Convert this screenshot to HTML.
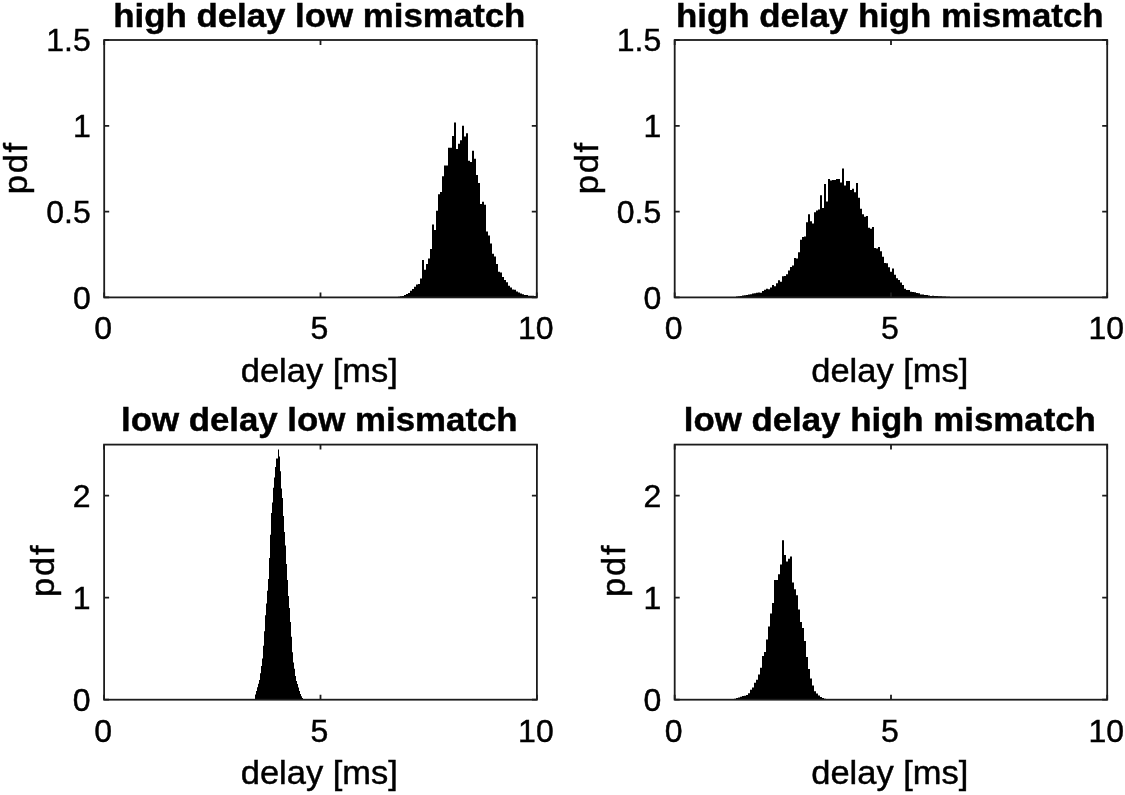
<!DOCTYPE html><html><head><meta charset="utf-8"><title>delay pdf</title>
<style>html,body{margin:0;padding:0;background:#fff;overflow:hidden}svg{display:block}text{font-family:"Liberation Sans", Arial, Helvetica, sans-serif;fill:#000;stroke:#000;stroke-width:0.45px}</style></head><body>
<svg width="1125" height="795" viewBox="0 0 1125 795">
<rect width="1125" height="795" fill="#fff"/>
<g>
<path d="M394.0 297.4L394.0 297.3L396.0 297.3L396.0 297.0L398.0 297.0L398.0 296.7L400.0 296.7L400.0 296.3L402.0 296.3L402.0 296.1L404.0 296.1L404.0 295.1L406.0 295.1L406.0 293.9L408.0 293.9L408.0 293.0L410.0 293.0L410.0 290.7L412.0 290.7L412.0 289.0L414.0 289.0L414.0 286.7L416.0 286.7L416.0 284.6L418.0 284.6L418.0 283.9L420.0 283.9L420.0 278.6L422.0 278.6L422.0 259.9L424.0 259.9L424.0 269.8L426.0 269.8L426.0 263.9L428.0 263.9L428.0 258.4L430.0 258.4L430.0 249.0L432.0 249.0L432.0 224.6L434.0 224.6L434.0 229.9L436.0 229.9L436.0 210.7L438.0 210.7L438.0 194.2L440.0 194.2L440.0 192.0L442.0 192.0L442.0 176.2L444.0 176.2L444.0 165.5L446.0 165.5L446.0 165.5L448.0 165.5L448.0 147.7L450.0 147.7L450.0 147.7L452.0 147.7L452.0 136.0L454.0 136.0L454.0 122.5L456.0 122.5L456.0 149.1L458.0 149.1L458.0 143.7L460.0 143.7L460.0 140.3L462.0 140.3L462.0 125.8L464.0 125.8L464.0 136.5L466.0 136.5L466.0 133.2L468.0 133.2L468.0 160.7L470.0 160.7L470.0 162.0L472.0 162.0L472.0 150.7L474.0 150.7L474.0 158.7L476.0 158.7L476.0 175.0L478.0 175.0L478.0 182.9L480.0 182.9L480.0 203.9L482.0 203.9L482.0 201.8L484.0 201.8L484.0 204.8L486.0 204.8L486.0 231.6L488.0 231.6L488.0 235.4L490.0 235.4L490.0 243.5L492.0 243.5L492.0 253.8L494.0 253.8L494.0 256.5L496.0 256.5L496.0 263.9L498.0 263.9L498.0 271.7L500.0 271.7L500.0 272.5L502.0 272.5L502.0 276.9L504.0 276.9L504.0 280.1L506.0 280.1L506.0 282.3L508.0 282.3L508.0 285.8L510.0 285.8L510.0 287.5L512.0 287.5L512.0 289.6L514.0 289.6L514.0 289.8L516.0 289.8L516.0 291.6L518.0 291.6L518.0 292.5L520.0 292.5L520.0 293.6L522.0 293.6L522.0 294.3L524.0 294.3L524.0 295.1L526.0 295.1L526.0 295.1L528.0 295.1L528.0 295.7L530.0 295.7L530.0 295.8L532.0 295.8L532.0 295.8L534.0 295.8L534.0 295.9L536.0 295.9L536.0 297.4Z" fill="#000"/>
<rect x="104.2" y="40.0" width="432.6" height="257.4" fill="none" stroke="#1c1c1c" stroke-width="1.8"/>
<path d="M104.2 297.4v-5.0M104.2 40.0v5.0M320.5 297.4v-5.0M320.5 40.0v5.0M536.8 297.4v-5.0M536.8 40.0v5.0M104.2 297.4h5.0M536.8 297.4h-5.0M104.2 211.6h5.0M536.8 211.6h-5.0M104.2 125.8h5.0M536.8 125.8h-5.0M104.2 40.0h5.0M536.8 40.0h-5.0" stroke="#1c1c1c" stroke-width="1.8" fill="none"/>
<text x="103.2" y="339.4" font-size="32" text-anchor="middle">0</text>
<text x="319.5" y="339.4" font-size="32" text-anchor="middle">5</text>
<text x="535.8" y="339.4" font-size="32" text-anchor="middle">10</text>
<text x="90.7" y="308.8" font-size="32" text-anchor="end">0</text>
<text x="90.7" y="223.0" font-size="32" text-anchor="end">0.5</text>
<text x="90.7" y="137.2" font-size="32" text-anchor="end">1</text>
<text x="90.7" y="51.4" font-size="32" text-anchor="end">1.5</text>
<text transform="translate(319.3 26.8) scale(1.04 1)" font-size="33.5" font-weight="bold" text-anchor="middle">high delay low mismatch</text>
<text transform="translate(319.3 382.0) scale(1.045 1)" font-size="33" stroke-width="0.7" text-anchor="middle">delay [ms]</text>
<text transform="translate(27.4 167.7) rotate(-90) scale(1.045 1)" font-size="33" stroke-width="0.3" text-anchor="middle" letter-spacing="1.7">pdf</text>
</g>
<g>
<path d="M730.0 297.4L730.0 297.3L732.0 297.3L732.0 297.1L734.0 297.1L734.0 296.9L736.0 296.9L736.0 296.5L738.0 296.5L738.0 296.3L740.0 296.3L740.0 296.1L742.0 296.1L742.0 295.6L744.0 295.6L744.0 295.3L746.0 295.3L746.0 295.1L748.0 295.1L748.0 294.6L750.0 294.6L750.0 294.2L752.0 294.2L752.0 293.4L754.0 293.4L754.0 293.2L756.0 293.2L756.0 292.8L758.0 292.8L758.0 292.4L760.0 292.4L760.0 292.8L762.0 292.8L762.0 290.9L764.0 290.9L764.0 289.8L766.0 289.8L766.0 288.8L768.0 288.8L768.0 289.3L770.0 289.3L770.0 287.4L772.0 287.4L772.0 284.9L774.0 284.9L774.0 286.3L776.0 286.3L776.0 283.2L778.0 283.2L778.0 280.3L780.0 280.3L780.0 281.8L782.0 281.8L782.0 276.3L784.0 276.3L784.0 276.0L786.0 276.0L786.0 274.3L788.0 274.3L788.0 270.6L790.0 270.6L790.0 267.0L792.0 267.0L792.0 265.4L794.0 265.4L794.0 257.9L796.0 257.9L796.0 258.4L798.0 258.4L798.0 252.2L800.0 252.2L800.0 239.7L802.0 239.7L802.0 237.1L804.0 237.1L804.0 236.6L806.0 236.6L806.0 222.3L808.0 222.3L808.0 214.3L810.0 214.3L810.0 221.3L812.0 221.3L812.0 223.6L814.0 223.6L814.0 212.3L816.0 212.3L816.0 210.4L818.0 210.4L818.0 209.4L820.0 209.4L820.0 195.3L822.0 195.3L822.0 207.9L824.0 207.9L824.0 184.0L826.0 184.0L826.0 201.5L828.0 201.5L828.0 179.0L830.0 179.0L830.0 180.4L832.0 180.4L832.0 180.0L834.0 180.0L834.0 180.0L836.0 180.0L836.0 179.0L838.0 179.0L838.0 179.0L840.0 179.0L840.0 182.6L842.0 182.6L842.0 168.6L844.0 168.6L844.0 185.5L846.0 185.5L846.0 181.0L848.0 181.0L848.0 181.0L850.0 181.0L850.0 189.9L852.0 189.9L852.0 188.7L854.0 188.7L854.0 192.2L856.0 192.2L856.0 183.1L858.0 183.1L858.0 197.8L860.0 197.8L860.0 208.7L862.0 208.7L862.0 214.3L864.0 214.3L864.0 216.7L866.0 216.7L866.0 215.9L868.0 215.9L868.0 227.8L870.0 227.8L870.0 228.8L872.0 228.8L872.0 227.0L874.0 227.0L874.0 248.1L876.0 248.1L876.0 248.6L878.0 248.6L878.0 246.9L880.0 246.9L880.0 251.3L882.0 251.3L882.0 256.8L884.0 256.8L884.0 262.9L886.0 262.9L886.0 263.2L888.0 263.2L888.0 267.3L890.0 267.3L890.0 271.8L892.0 271.8L892.0 268.5L894.0 268.5L894.0 274.7L896.0 274.7L896.0 278.3L898.0 278.3L898.0 279.9L900.0 279.9L900.0 282.6L902.0 282.6L902.0 284.9L904.0 284.9L904.0 288.8L906.0 288.8L906.0 289.9L908.0 289.9L908.0 289.9L910.0 289.9L910.0 291.7L912.0 291.7L912.0 291.9L914.0 291.9L914.0 292.3L916.0 292.3L916.0 293.0L918.0 293.0L918.0 293.2L920.0 293.2L920.0 294.5L922.0 294.5L922.0 294.5L924.0 294.5L924.0 294.9L926.0 294.9L926.0 295.1L928.0 295.1L928.0 295.4L930.0 295.4L930.0 295.9L932.0 295.9L932.0 295.7L934.0 295.7L934.0 296.1L936.0 296.1L936.0 296.0L938.0 296.0L938.0 296.3L940.0 296.3L940.0 296.3L942.0 296.3L942.0 296.4L944.0 296.4L944.0 296.6L946.0 296.6L946.0 296.7L948.0 296.7L948.0 296.8L950.0 296.8L950.0 296.9L952.0 296.9L952.0 297.0L954.0 297.0L954.0 297.1L956.0 297.1L956.0 297.2L958.0 297.2L958.0 297.3L960.0 297.3L960.0 297.4Z" fill="#000"/>
<rect x="674.7" y="40.0" width="432.5" height="257.4" fill="none" stroke="#1c1c1c" stroke-width="1.8"/>
<path d="M674.7 297.4v-5.0M674.7 40.0v5.0M891.0 297.4v-5.0M891.0 40.0v5.0M1107.2 297.4v-5.0M1107.2 40.0v5.0M674.7 297.4h5.0M1107.2 297.4h-5.0M674.7 211.6h5.0M1107.2 211.6h-5.0M674.7 125.8h5.0M1107.2 125.8h-5.0M674.7 40.0h5.0M1107.2 40.0h-5.0" stroke="#1c1c1c" stroke-width="1.8" fill="none"/>
<text x="673.7" y="339.4" font-size="32" text-anchor="middle">0</text>
<text x="890.0" y="339.4" font-size="32" text-anchor="middle">5</text>
<text x="1106.2" y="339.4" font-size="32" text-anchor="middle">10</text>
<text x="661.2" y="308.8" font-size="32" text-anchor="end">0</text>
<text x="661.2" y="223.0" font-size="32" text-anchor="end">0.5</text>
<text x="661.2" y="137.2" font-size="32" text-anchor="end">1</text>
<text x="661.2" y="51.4" font-size="32" text-anchor="end">1.5</text>
<text transform="translate(889.8 26.8) scale(1.04 1)" font-size="33.5" font-weight="bold" text-anchor="middle">high delay high mismatch</text>
<text transform="translate(889.8 382.0) scale(1.045 1)" font-size="33" stroke-width="0.7" text-anchor="middle">delay [ms]</text>
<text transform="translate(597.9 167.7) rotate(-90) scale(1.045 1)" font-size="33" stroke-width="0.3" text-anchor="middle" letter-spacing="1.7">pdf</text>
</g>
<g>
<path d="M255.0 699.7L255.0 694.5L256.0 694.5L256.0 691.1L257.0 691.1L257.0 687.2L258.0 687.2L258.0 683.8L259.0 683.8L259.0 680.1L260.0 680.1L260.0 673.3L261.0 673.3L261.0 666.1L262.0 666.1L262.0 658.5L263.0 658.5L263.0 645.7L264.0 645.7L264.0 631.3L265.0 631.3L265.0 615.2L266.0 615.2L266.0 603.5L267.0 603.5L267.0 590.7L268.0 590.7L268.0 578.9L269.0 578.9L269.0 558.0L270.0 558.0L270.0 534.8L271.0 534.8L271.0 513.1L272.0 513.1L272.0 502.6L273.0 502.6L273.0 487.7L274.0 487.7L274.0 477.5L275.0 477.5L275.0 467.0L276.0 467.0L276.0 458.6L277.0 458.6L277.0 458.5L278.0 458.5L278.0 449.6L279.0 449.6L279.0 456.6L280.0 456.6L280.0 471.3L281.0 471.3L281.0 488.6L282.0 488.6L282.0 498.1L283.0 498.1L283.0 516.1L284.0 516.1L284.0 531.9L285.0 531.9L285.0 545.5L286.0 545.5L286.0 564.0L287.0 564.0L287.0 579.9L288.0 579.9L288.0 596.1L289.0 596.1L289.0 607.9L290.0 607.9L290.0 622.0L291.0 622.0L291.0 636.8L292.0 636.8L292.0 652.3L293.0 652.3L293.0 662.4L294.0 662.4L294.0 668.8L295.0 668.8L295.0 675.9L296.0 675.9L296.0 681.0L297.0 681.0L297.0 684.1L298.0 684.1L298.0 687.5L299.0 687.5L299.0 690.9L300.0 690.9L300.0 694.1L301.0 694.1L301.0 696.3L302.0 696.3L302.0 698.1L303.0 698.1L303.0 699.7Z" fill="#000"/>
<rect x="104.1" y="444.6" width="432.8" height="255.1" fill="none" stroke="#1c1c1c" stroke-width="1.8"/>
<path d="M104.1 699.7v-5.0M104.1 444.6v5.0M320.5 699.7v-5.0M320.5 444.6v5.0M536.9 699.7v-5.0M536.9 444.6v5.0M104.1 699.7h5.0M536.9 699.7h-5.0M104.1 597.7h5.0M536.9 597.7h-5.0M104.1 495.6h5.0M536.9 495.6h-5.0" stroke="#1c1c1c" stroke-width="1.8" fill="none"/>
<text x="103.1" y="741.7" font-size="32" text-anchor="middle">0</text>
<text x="319.5" y="741.7" font-size="32" text-anchor="middle">5</text>
<text x="535.9" y="741.7" font-size="32" text-anchor="middle">10</text>
<text x="90.6" y="711.1" font-size="32" text-anchor="end">0</text>
<text x="90.6" y="609.1" font-size="32" text-anchor="end">1</text>
<text x="90.6" y="507.0" font-size="32" text-anchor="end">2</text>
<text transform="translate(319.3 431.4) scale(1.04 1)" font-size="33.5" font-weight="bold" text-anchor="middle">low delay low mismatch</text>
<text transform="translate(319.3 784.3) scale(1.045 1)" font-size="33" stroke-width="0.7" text-anchor="middle">delay [ms]</text>
<text transform="translate(53.9 570.4) rotate(-90) scale(1.045 1)" font-size="33" stroke-width="0.3" text-anchor="middle" letter-spacing="1.7">pdf</text>
</g>
<g>
<path d="M732.0 699.7L732.0 699.2L734.0 699.2L734.0 698.7L736.0 698.7L736.0 698.0L738.0 698.0L738.0 697.4L740.0 697.4L740.0 696.8L742.0 696.8L742.0 696.1L744.0 696.1L744.0 695.7L746.0 695.7L746.0 694.9L748.0 694.9L748.0 693.2L750.0 693.2L750.0 689.8L752.0 689.8L752.0 687.4L754.0 687.4L754.0 682.7L756.0 682.7L756.0 679.7L758.0 679.7L758.0 674.4L760.0 674.4L760.0 667.8L762.0 667.8L762.0 655.9L764.0 655.9L764.0 652.1L766.0 652.1L766.0 639.6L768.0 639.6L768.0 626.5L770.0 626.5L770.0 613.4L772.0 613.4L772.0 603.0L774.0 603.0L774.0 580.0L776.0 580.0L776.0 580.0L778.0 580.0L778.0 574.2L780.0 574.2L780.0 564.4L782.0 564.4L782.0 540.3L784.0 540.3L784.0 555.1L786.0 555.1L786.0 561.4L788.0 561.4L788.0 558.8L790.0 558.8L790.0 556.6L792.0 556.6L792.0 582.6L794.0 582.6L794.0 589.2L796.0 589.2L796.0 595.2L798.0 595.2L798.0 609.5L800.0 609.5L800.0 622.0L802.0 622.0L802.0 627.9L804.0 627.9L804.0 641.1L806.0 641.1L806.0 657.1L808.0 657.1L808.0 668.9L810.0 668.9L810.0 678.4L812.0 678.4L812.0 685.4L814.0 685.4L814.0 691.2L816.0 691.2L816.0 693.5L818.0 693.5L818.0 695.6L820.0 695.6L820.0 697.1L822.0 697.1L822.0 697.9L824.0 697.9L824.0 698.8L826.0 698.8L826.0 699.6L828.0 699.6L828.0 699.7Z" fill="#000"/>
<rect x="674.7" y="444.6" width="432.5" height="255.1" fill="none" stroke="#1c1c1c" stroke-width="1.8"/>
<path d="M674.7 699.7v-5.0M674.7 444.6v5.0M891.0 699.7v-5.0M891.0 444.6v5.0M1107.2 699.7v-5.0M1107.2 444.6v5.0M674.7 699.7h5.0M1107.2 699.7h-5.0M674.7 597.7h5.0M1107.2 597.7h-5.0M674.7 495.6h5.0M1107.2 495.6h-5.0" stroke="#1c1c1c" stroke-width="1.8" fill="none"/>
<text x="673.7" y="741.7" font-size="32" text-anchor="middle">0</text>
<text x="890.0" y="741.7" font-size="32" text-anchor="middle">5</text>
<text x="1106.2" y="741.7" font-size="32" text-anchor="middle">10</text>
<text x="661.2" y="711.1" font-size="32" text-anchor="end">0</text>
<text x="661.2" y="609.1" font-size="32" text-anchor="end">1</text>
<text x="661.2" y="507.0" font-size="32" text-anchor="end">2</text>
<text transform="translate(889.8 431.4) scale(1.04 1)" font-size="33.5" font-weight="bold" text-anchor="middle">low delay high mismatch</text>
<text transform="translate(889.8 784.3) scale(1.045 1)" font-size="33" stroke-width="0.7" text-anchor="middle">delay [ms]</text>
<text transform="translate(624.5 570.4) rotate(-90) scale(1.045 1)" font-size="33" stroke-width="0.3" text-anchor="middle" letter-spacing="1.7">pdf</text>
</g>
</svg></body></html>
